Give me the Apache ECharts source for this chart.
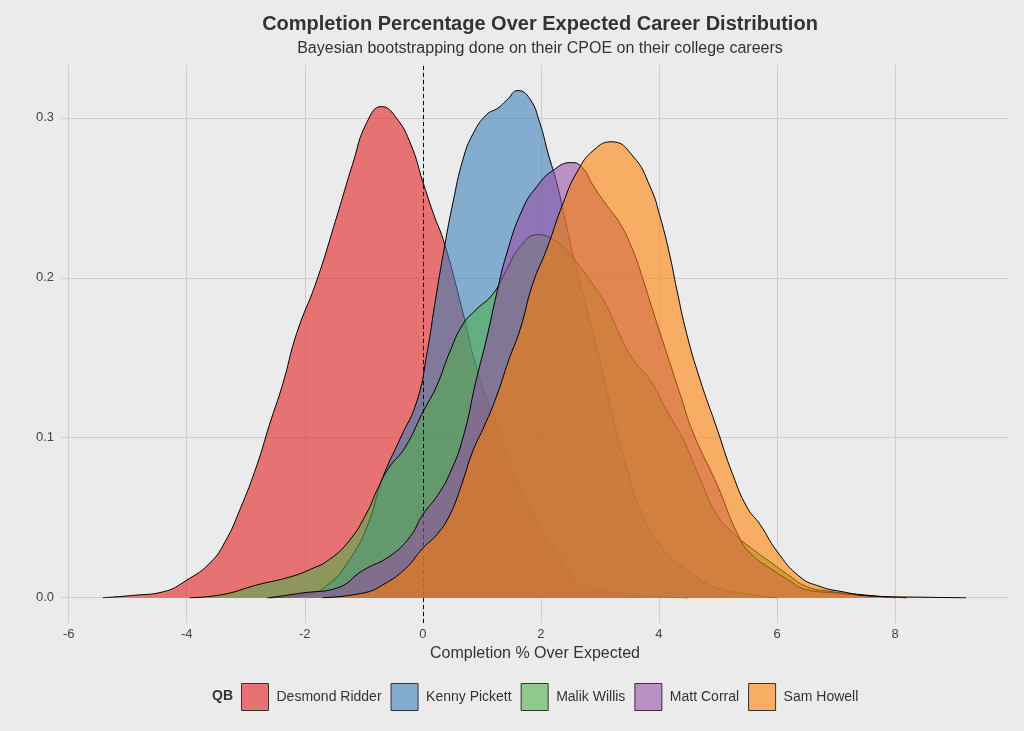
<!DOCTYPE html>
<html>
<head>
<meta charset="utf-8">
<script src="https://cdn.jsdelivr.net/npm/echarts@6/dist/echarts.min.js"></script>
<style>
  html, body { margin: 0; padding: 0; background: #ebebeb; }
  #chart { width: 1024px; height: 731px; }
</style>
</head>
<body>
<div id="chart"></div>
<script>
// density curves, [CPOE, density]
const qbNames = ['Desmond Ridder', 'Kenny Pickett', 'Malik Willis', 'Matt Corral', 'Sam Howell']
const qbColors = ['rgba(228,26,28,0.58)', 'rgba(55,126,184,0.58)', 'rgba(77,175,74,0.58)', 'rgba(152,78,163,0.58)', 'rgba(255,127,0,0.58)']

const desmondRidder = [
  [-5.42, 0], [-4.9, 0.0015], [-4.4, 0.0037], [-4.0, 0.011], [-3.6, 0.022], [-3.35, 0.035],
  [-3.1, 0.055], [-2.81, 0.083], [-2.6, 0.108], [-2.37, 0.134], [-2.14, 0.165], [-1.8, 0.198],
  [-1.46, 0.238], [-1.19, 0.271], [-0.95, 0.297], [-0.7, 0.307], [-0.45, 0.3], [-0.2, 0.283],
  [0, 0.26], [0.17, 0.241], [0.37, 0.221], [0.68, 0.178], [0.9, 0.145], [1.13, 0.12],
  [1.3, 0.105], [1.6, 0.072], [1.9, 0.05], [2.2, 0.032], [2.45, 0.018], [2.66, 0.009],
  [3.0, 0.005], [3.3, 0.003], [3.85, 0.001], [4.5, 0]
]
const kennyPickett = [
  [-2.64, 0], [-1.97, 0.002], [-1.58, 0.009], [-1.24, 0.024], [-0.95, 0.044], [-0.68, 0.075],
  [-0.39, 0.099], [-0.1, 0.123], [0.08, 0.155], [0.2, 0.183], [0.37, 0.22], [0.51, 0.247],
  [0.68, 0.274], [0.85, 0.29], [1.08, 0.302], [1.27, 0.306], [1.42, 0.311], [1.61, 0.317],
  [1.81, 0.312], [1.98, 0.297], [2.12, 0.278], [2.27, 0.259], [2.4, 0.238], [2.54, 0.215],
  [2.71, 0.19], [2.85, 0.17], [3.0, 0.148], [3.22, 0.113], [3.45, 0.082], [3.73, 0.051],
  [4.13, 0.028], [4.53, 0.016], [4.92, 0.007], [5.54, 0.002], [6.0, 0]
]
const malikWillis = [
  [-3.95, 0], [-3.39, 0.002], [-2.81, 0.008], [-2.25, 0.013], [-1.92, 0.0175], [-1.58, 0.024],
  [-1.24, 0.036], [-0.95, 0.053], [-0.78, 0.067], [-0.58, 0.081], [-0.3, 0.094], [0, 0.116],
  [0.23, 0.132], [0.46, 0.154], [0.68, 0.171], [0.9, 0.18], [1.19, 0.19], [1.42, 0.205],
  [1.64, 0.219], [1.95, 0.227], [2.2, 0.224], [2.44, 0.217], [2.66, 0.207], [2.88, 0.196],
  [3.12, 0.182], [3.34, 0.164], [3.56, 0.149], [3.85, 0.136], [4.13, 0.117], [4.41, 0.099],
  [4.69, 0.075], [4.98, 0.052], [5.3, 0.039], [5.6, 0.03], [5.9, 0.022], [6.2, 0.014],
  [6.5, 0.007], [6.9, 0.004], [7.4, 0.002], [8.0, 0]
]
const mattCorral = [
  [-2.6, 0], [-2.03, 0.003], [-1.46, 0.006], [-1.02, 0.017], [-0.56, 0.026], [-0.22, 0.038],
  [0, 0.052], [0.25, 0.064], [0.46, 0.078], [0.68, 0.1], [0.91, 0.137], [1.08, 0.162],
  [1.25, 0.19], [1.42, 0.215], [1.69, 0.243], [1.93, 0.257], [2.2, 0.267], [2.52, 0.272],
  [2.7, 0.269], [2.88, 0.258], [3.12, 0.245], [3.34, 0.234], [3.56, 0.217], [3.73, 0.199],
  [3.9, 0.179], [4.13, 0.153], [4.36, 0.127], [4.58, 0.103], [4.98, 0.071], [5.37, 0.037],
  [5.6, 0.026], [5.9, 0.018], [6.2, 0.011], [6.5, 0.005], [7.0, 0.003], [7.6, 0.001], [8.2, 0]
]
const samHowell = [
  [-1.7, 0], [-1.0, 0.003], [-0.68, 0.008], [-0.3, 0.018], [0, 0.031], [0.25, 0.04],
  [0.46, 0.052], [0.65, 0.07], [0.85, 0.092], [1.05, 0.108], [1.25, 0.126], [1.45, 0.148],
  [1.65, 0.168], [1.86, 0.196], [2.1, 0.218], [2.37, 0.246], [2.61, 0.266], [2.9, 0.28],
  [3.2, 0.285], [3.56, 0.276], [3.85, 0.257], [4.02, 0.238], [4.19, 0.213], [4.3, 0.193],
  [4.47, 0.165], [4.69, 0.137], [4.98, 0.106], [5.25, 0.077], [5.5, 0.056], [5.71, 0.046],
  [6.0, 0.029], [6.39, 0.013], [6.73, 0.007], [7.07, 0.004], [7.63, 0.001], [8.5, 0.0003], [9.2, 0]
]
const qbCurves = [desmondRidder, kennyPickett, malikWillis, mattCorral, samHowell]

const xTicks = [-6, -4, -2, 0, 2, 4, 6, 8]
const yTicks = [0, 0.1, 0.2, 0.3]

const chart = echarts.init(document.getElementById('chart'))

const series = qbNames.map((name, i) => ({
  name,
  type: 'line',
  data: qbCurves[i],
  smooth: 0.5,
  showSymbol: false,
  symbol: 'none',
  itemStyle: { color: qbColors[i] },
  lineStyle: { color: '#000', width: 1 },
  areaStyle: { color: qbColors[i], opacity: 1 },
  emphasis: { disabled: true },
  z: 2 + i
}))

// dashed reference line at zero, on top of everything
series[series.length - 1].markLine = {
  silent: true,
  symbol: 'none',
  label: { show: false },
  lineStyle: { color: '#000', type: [4, 3], width: 1 },
  data: [{ xAxis: 0 }]
}

const gridLine = { lineStyle: { color: '#cdcdcd', width: 1 } }
const tickFont = { color: '#444', fontSize: 13, fontFamily: 'Liberation Sans' }

chart.setOption({
  backgroundColor: '#ebebeb',
  animation: false,
  title: {
    text: 'Completion Percentage Over Expected Career Distribution',
    subtext: 'Bayesian bootstrapping done on their CPOE on their college careers',
    left: 535,
    top: 9,
    textAlign: 'center',
    itemGap: 7,
    textStyle: { color: '#333', fontSize: 20, fontWeight: 'bold', fontFamily: 'Liberation Sans' },
    subtextStyle: { color: '#333', fontSize: 16, fontFamily: 'Liberation Sans' }
  },
  grid: { left: 61, right: 15, top: 65, bottom: 108 },
  xAxis: {
    type: 'value',
    min: -6.13,
    max: 9.93,
    name: 'Completion % Over Expected',
    nameLocation: 'middle',
    nameGap: 22,
    nameTextStyle: { color: '#333', fontSize: 16, fontFamily: 'Liberation Sans' },
    axisLine: { show: false },
    axisTick: { show: false, customValues: xTicks },
    axisLabel: { ...tickFont, margin: 5, customValues: xTicks },
    splitLine: { show: true, ...gridLine }
  },
  yAxis: {
    type: 'value',
    min: -0.0158,
    max: 0.333,
    axisLine: { show: false },
    axisTick: { show: false, customValues: yTicks },
    axisLabel: { ...tickFont, margin: 7, customValues: yTicks, formatter: (v) => v.toFixed(1) },
    splitLine: { show: true, ...gridLine }
  },
  legend: {
    data: qbNames,
    left: 236,
    top: 678,
    icon: 'rect',
    itemWidth: 27,
    itemHeight: 27,
    itemGap: 9,
    selectedMode: false,
    itemStyle: { borderColor: '#333', borderWidth: 1 },
    lineStyle: { opacity: 0, width: 0 },
    textStyle: { color: '#333', fontSize: 14, fontFamily: 'Liberation Sans', padding: [0, 0, 0, 3] }
  },
  graphic: [{
    type: 'text',
    left: 212,
    top: 689,
    style: { text: 'QB', fill: '#333', fontSize: 14, fontWeight: 'bold', fontFamily: 'Liberation Sans' }
  }],
  series
})

window.addEventListener('resize', () => chart.resize())
</script>
</body>
</html>
